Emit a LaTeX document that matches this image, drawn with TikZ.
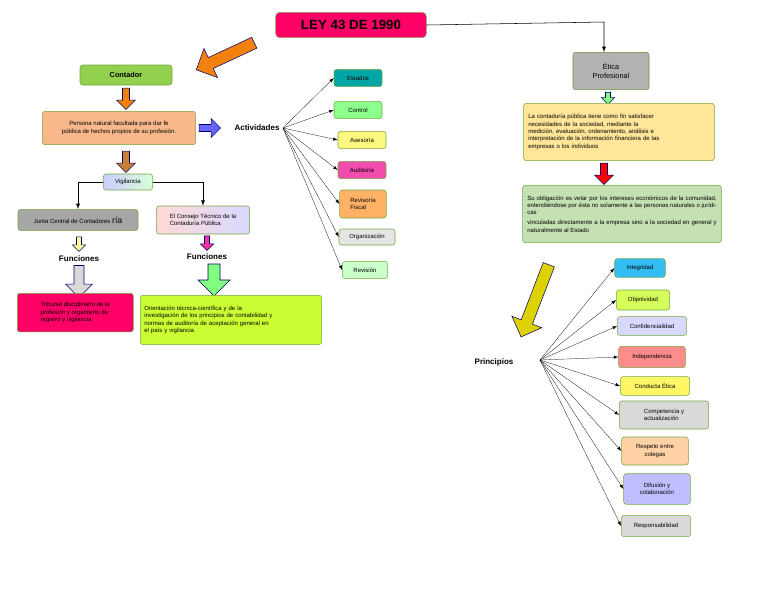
\documentclass[tikz,border=0pt]{standalone}
\usepackage{tikz}
\usepackage{fontspec}
\setmainfont{Liberation Sans}
\usetikzlibrary{positioning,shapes.arrows}
\definecolor{leypink}{HTML}{FF0066}
\definecolor{grass}{HTML}{92D050}
\definecolor{salmon}{HTML}{F8B88B}
\definecolor{lime}{HTML}{CCFF33}
\definecolor{cream}{HTML}{FFE699}
\definecolor{sage}{HTML}{C5E0B3}
\definecolor{greyish}{HTML}{D9D9D9}
\begin{document}
\begin{tikzpicture}[x=0.75pt,y=-0.75pt,
box/.style={draw=grass!80!black,rounded corners=2pt,font=\fontsize{4.5}{5.5}\selectfont,align=center,inner sep=2pt,thin},
txt/.style={font=\bfseries\fontsize{6}{7}\selectfont},
fat/.style={single arrow,draw=blue!40!black,fill=#1,minimum height=16pt,minimum width=14pt,single arrow head extend=2pt,inner sep=1pt},
link/.style={-latex,black,very thin}]
\useasboundingbox (0,0) rectangle (768,594);
% header
\node[box,fill=leypink,draw=grass!50!gray,rounded corners=3pt,minimum width=113pt,minimum height=19pt,font=\bfseries\fontsize{10}{12}\selectfont](ley) at (351,25){LEY 43 DE 1990};
\node[fat=orange!80!brown,rotate=205,minimum height=48pt,minimum width=24pt] (a0) at (228,55){};
% left branch
\node[box,fill=grass,minimum width=69pt,minimum height=15pt,font=\bfseries\fontsize{5.5}{6}\selectfont](contador) at (126,75){Contador};
\node[fat=orange!80!brown,shape border rotate=270](a1) at (126,97){};
\node[box,fill=salmon,minimum width=115pt,minimum height=25pt](persona) at (119,128){Persona natural facultada para dar fe\\pública de hechos propios de su profesión.};
\node[fat=blue!60,minimum height=16pt](a2) at (208,128){};
\node[txt](activ) at (257,128){Actividades};
\node[fat=brown!80!orange,shape border rotate=270](a3) at (126,160){};
\node[box,left color=blue!20,right color=green!15,minimum width=37pt,minimum height=12pt](vig) at (128,182){Vigilancia};
\node[box,fill=black!35,minimum width=90pt,minimum height=16pt](junta) at (78,220){Junta Central de Contadores \fontsize{6.5}{7}\selectfont ría};
\node[box,left color=pink!60,right color=blue!15,minimum width=70pt,minimum height=21pt,align=left](consejo) at (203,220){El Consejo Técnico de la\\Contaduría Pública};
\draw[-latex,thin] (vig.west) -| (junta.north);
\draw[-latex,thin] (vig.east) -| (consejo.north);
\node[fat=yellow!40,shape border rotate=270,minimum height=11pt,minimum width=10pt](a4) at (79,243){};
\node[txt](fun1) at (79,259){Funciones};
\node[fat=magenta!80,shape border rotate=270,minimum height=11pt,minimum width=10pt](a5) at (207,242){};
\node[txt](fun2) at (207,257){Funciones};
\node[fat=greyish,shape border rotate=270,minimum height=24pt,minimum width=20pt](a6) at (79,279){};
\node[fat=green!50,shape border rotate=270,minimum height=24pt,minimum width=24pt](a7) at (214,277){};
\node[box,fill=leypink,minimum width=87pt,minimum height=29pt,align=left,anchor=north west](trib) at (17,293){Tribunal disciplinario de la\\profesión y organismo de\\registro y vigilancia};
\node[box,fill=lime,minimum width=136pt,minimum height=37pt,align=left,anchor=north west,text width=130pt](orient) at (140,295){Orientación técnica-científica y de la\\investigación de los principios de contabilidad y\\normas de auditoría de aceptación general en\\el país y vigilancia};
% actividades
\node[box,fill=teal!70!cyan,minimum width=36pt,minimum height=13pt](estados) at (358,78){Estados};
\node[box,fill=green!45,minimum width=36pt,minimum height=13pt](control) at (358,110){Control};
\node[box,fill=yellow!50,minimum width=36pt,minimum height=13pt](aseso) at (362,140){Asesoría};
\node[box,fill=magenta!70,minimum width=36pt,minimum height=13pt](audit) at (362,170){Auditoría};
\node[box,fill=orange!60,minimum width=35pt,minimum height=21pt,align=left](revfis) at (363,204){Revisoría\\Fiscal};
\node[box,fill=black!10,minimum width=42pt,minimum height=12pt](organ) at (367,237){Organización};
\node[box,fill=green!20,minimum width=34pt,minimum height=13pt](revis) at (365,270){Revisión};
\coordinate (hub) at (283,128);
\foreach \n in {estados,control,aseso,audit,revfis,organ,revis}
  \draw[link] (hub) -- (\n.west);
% right branch
\draw[-latex,thin] (ley.east) -- (604,22) -- (604,52);
\node[box,fill=black!30,draw=grass!70!black,minimum width=57pt,minimum height=28pt,font=\fontsize{5.5}{6.5}\selectfont](etica) at (611,71){Ética\\Profesional};
\node[fat=green!50,shape border rotate=270,minimum height=9pt,minimum width=10pt](a8) at (608,97){};
\node[box,fill=cream,minimum width=143pt,minimum height=43pt,align=left,text width=136pt](fin) at (619,132){La contaduría pública tiene como fin satisfacer\\necesidades de la sociedad, mediante la\\medición, evaluación, ordenamiento, análisis e\\interpretación de la información financiera de las\\empresas o los individuos};
\node[fat=red,shape border rotate=270,minimum height=16pt,minimum width=14pt](a9) at (604,172){};
\node[box,fill=sage,minimum width=149pt,minimum height=43pt,align=justify,text width=142pt](oblig) at (622,214){Su obligación es velar por los intereses económicos de la comunidad, entendiéndose por ésta no solamente a las personas naturales o jurídicas\\[2pt] vinculadas directamente a la empresa sino a la sociedad en general y naturalmente al Estado};
\node[fat=yellow!70!olive,rotate=249,minimum height=58pt,minimum width=24pt](a10) at (536,298){};
\node[txt](princ) at (494,362){Principios};
\node[box,fill=cyan!80,minimum width=38pt,minimum height=14pt](integ) at (640,268){Integridad};
\node[box,fill=lime!80,minimum width=40pt,minimum height=15pt](objet) at (643,300){Objetividad};
\node[box,fill=blue!15,minimum width=52pt,minimum height=14pt](confi) at (652,326){Confidencialidad};
\node[box,fill=red!45,minimum width=50pt,minimum height=16pt](indep) at (652,357){Independencia};
\node[box,fill=yellow!60,minimum width=52pt,minimum height=14pt](condu) at (655,386){Conducta Ética};
\node[box,fill=greyish,minimum width=67pt,minimum height=21pt,align=left](compe) at (664,415){Competencia y\\actualización};
\node[box,fill=orange!35,minimum width=50pt,minimum height=21pt](respe) at (655,451){Respeto entre\\colegas};
\node[box,fill=blue!25,minimum width=50pt,minimum height=23pt](difus) at (657,489){Difusión y\\colaboración};
\node[box,fill=greyish,minimum width=52pt,minimum height=16pt](respo) at (656,526){Responsabilidad};
\coordinate (hub2) at (540,360);
\foreach \n in {integ,objet,confi,indep,condu,compe,respe,difus,respo}
  \draw[link] (hub2) -- (\n.west);
\end{tikzpicture}
\end{document}
